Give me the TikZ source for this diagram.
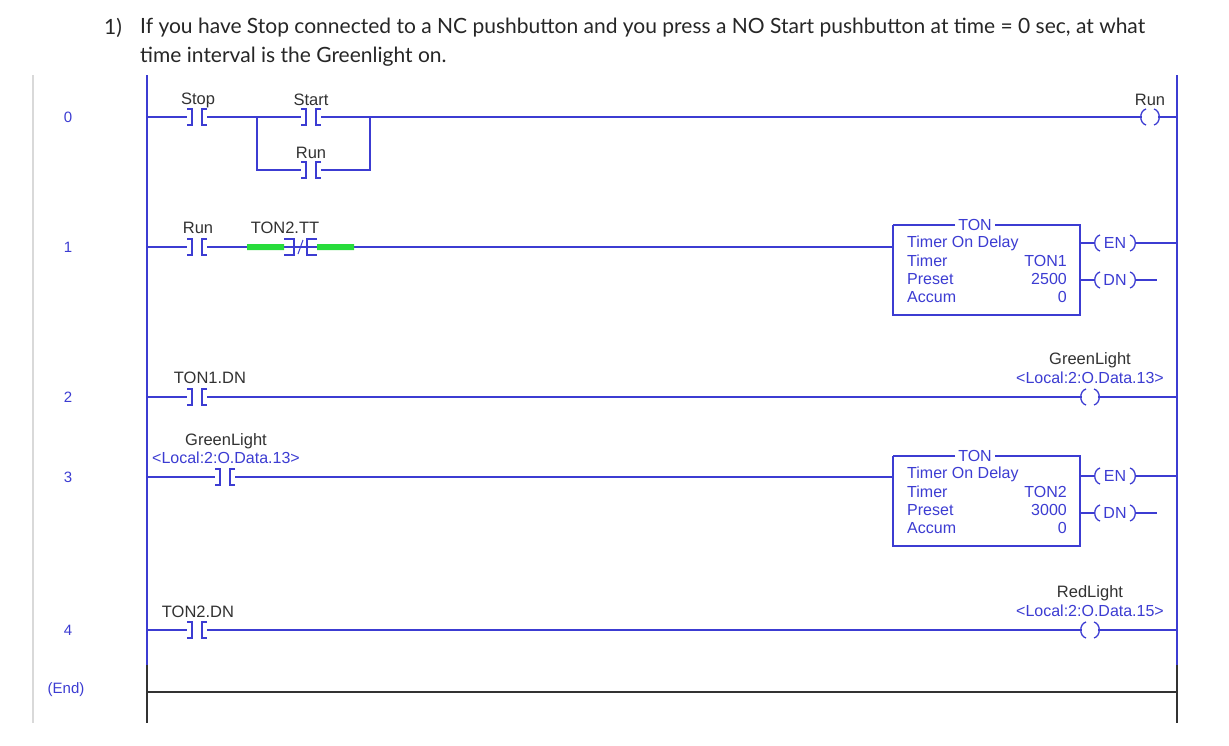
\documentclass[tikz,border=0pt]{standalone}
\usepackage{fontspec}
\setmainfont{Liberation Sans}
\newfontfamily\lato{Lato}
\definecolor{wire}{RGB}{60,60,210}
\definecolor{tagc}{RGB}{50,50,50}
\definecolor{grn}{RGB}{40,220,60}
\begin{document}
\begin{tikzpicture}[x=1pt,y=-1pt,
  w/.style={draw=wire,line width=1.3pt},
  tag/.style={text=tagc,font=\fontsize{16.5}{16}\selectfont,inner sep=0},
  adr/.style={text=wire,font=\fontsize{16}{16}\selectfont,inner sep=0},
  num/.style={text=wire,font=\fontsize{15}{15}\selectfont,inner sep=0},
  box/.style={text=wire,font=\fontsize{16}{16}\selectfont,inner sep=0},
  ttl/.style={text=black!85,font=\lato\fontsize{21}{24}\selectfont,inner sep=0,anchor=west},
  contact/.pic={\draw[w] (-10,-8)--(-5,-8)--(-5,8)--(-10,8) (10,-8)--(5,-8)--(5,8)--(10,8);},
  coil/.pic={\draw[w] (-4,-8) .. controls (-11,-6) and (-11,6) .. (-4,8);
             \draw[w] (4,-8) .. controls (11,-6) and (11,6) .. (4,8);}
]
\useasboundingbox (0,0) rectangle (1229,745);
\fill[white] (0,0) rectangle (1229,745);
% title
\node[ttl] (t0) at (104,28) {1)};
\node[ttl] (t1) at (140,28) {If you have Stop connected to a NC pushbutton and you press a NO Start pushbutton at time = 0 sec, at what};
\node[ttl] (t2) at (140,57) {time interval is the Greenlight on.};
% gutter
\draw[black!15,line width=1.5pt] (33,75)--(33,723);
% rails
\draw[w] (147,75)--(147,665) (1177,75)--(1177,665);
\draw[tagc,line width=1.3pt] (147,665)--(147,723) (1177,665)--(1177,723);
\draw[tagc,line width=1.3pt] (147,692)--(1177,692);
% rung numbers
\node[num] (n0) at (68,117) {0};
\node[num] (n1) at (68,247) {1};
\node[num] (n2) at (68,397) {2};
\node[num] (n3) at (68,477) {3};
\node[num] (n4) at (68,630) {4};
\node[num] (ne) at (66,690) {(End)};
% rung 0
\draw[w] (147,117)--(187,117) (207,117)--(301,117) (321,117)--(1142,117) (1158,117)--(1177,117);
\draw[w] (257,117)--(257,170)--(301,170) (321,170)--(370,170)--(370,117);
\pic at (197,117) {contact}; \pic at (311,117) {contact}; \pic at (311,170) {contact};
\pic at (1150,117) {coil};
\node[tag] (l0a) at (198,100) {Stop};
\node[tag] (l0b) at (311,100) {Start};
\node[tag] (l0c) at (311,153) {Run};
\node[tag] (l0d) at (1150,100) {Run};
% rung 1
\draw[w] (147,247)--(187,247) (207,247)--(893,247);
\fill[grn] (247,244) rectangle (284,250) (317,244) rectangle (354,250);
\pic at (197,247) {contact};
\draw[w] (284,239)--(294,239)--(294,255)--(284,255) (317,239)--(307,239)--(307,255)--(317,255);
\draw[w,line width=1pt] (298,254)--(303,240);
\node[tag] (l1a) at (198,228) {Run};
\node[tag] (l1b) at (285,228) {TON2.TT};
\newcommand\tonbox[5]{%
 \draw[w] (893,#1)--(893,#1+90)--(1080,#1+90)--(1080,#1)--(995,#1) (955,#1)--(893,#1);
 \node[box] (#5t) at (975,#1) {TON};
 \node[box,anchor=west] (#5a) at (907,#1+18) {Timer On Delay};
 \node[box,anchor=west] (#5b) at (907,#1+36) {Timer};
 \node[box,anchor=west] (#5c) at (907,#1+54) {Preset};
 \node[box,anchor=west] (#5d) at (907,#1+72) {Accum};
 \node[box,anchor=east] (#5e) at (1067,#1+36) {#2};
 \node[box,anchor=east] (#5f) at (1067,#1+54) {#3};
 \node[box,anchor=east] (#5g) at (1067,#1+72) {0};
 \draw[w] (1080,#1+18+#4)--(1094,#1+18+#4) (1136,#1+18+#4)--(1177,#1+18+#4);
 \draw[w] (1080,#1+55+#4)--(1094,#1+55+#4) (1136,#1+55+#4)--(1157,#1+55+#4);
 \node[box] (#5h) at (1115,#1+18+#4) {EN};
 \node[box] (#5i) at (1115,#1+55+#4) {DN};
 \foreach \yy in {18,55}{
  \draw[w] (1100,#1+\yy+#4-8) .. controls (1093,#1+\yy+#4-6) and (1093,#1+\yy+#4+6) .. (1100,#1+\yy+#4+8);
  \draw[w] (1130,#1+\yy+#4-8) .. controls (1137,#1+\yy+#4-6) and (1137,#1+\yy+#4+6) .. (1130,#1+\yy+#4+8);}
}
\tonbox{225}{TON1}{2500}{0}{a}
% rung 2
\draw[w] (147,397)--(187,397) (207,397)--(1082,397) (1098,397)--(1177,397);
\pic at (197,397) {contact}; \pic at (1090,397) {coil};
\node[tag] (l2a) at (210,378) {TON1.DN};
\node[tag] (l2b) at (1090,360) {GreenLight};
\node[adr] (l2c) at (1090,378) {<Local:2:O.Data.13>};
% rung 3
\draw[w] (147,477)--(215,477) (235,477)--(893,477);
\pic at (225,477) {contact};
\node[tag] (l3a) at (226,441) {GreenLight};
\node[adr] (l3b) at (226,458) {<Local:2:O.Data.13>};
\tonbox{456}{TON2}{3000}{2}{b}
% rung 4
\draw[w] (147,630)--(187,630) (207,630)--(1082,630) (1098,630)--(1177,630);
\pic at (197,630) {contact}; \pic at (1090,630) {coil};
\node[tag] (l4a) at (198,612) {TON2.DN};
\node[tag] (l4b) at (1090,593) {RedLight};
\node[adr] (l4c) at (1090,611) {<Local:2:O.Data.15>};
\end{tikzpicture}
\end{document}
